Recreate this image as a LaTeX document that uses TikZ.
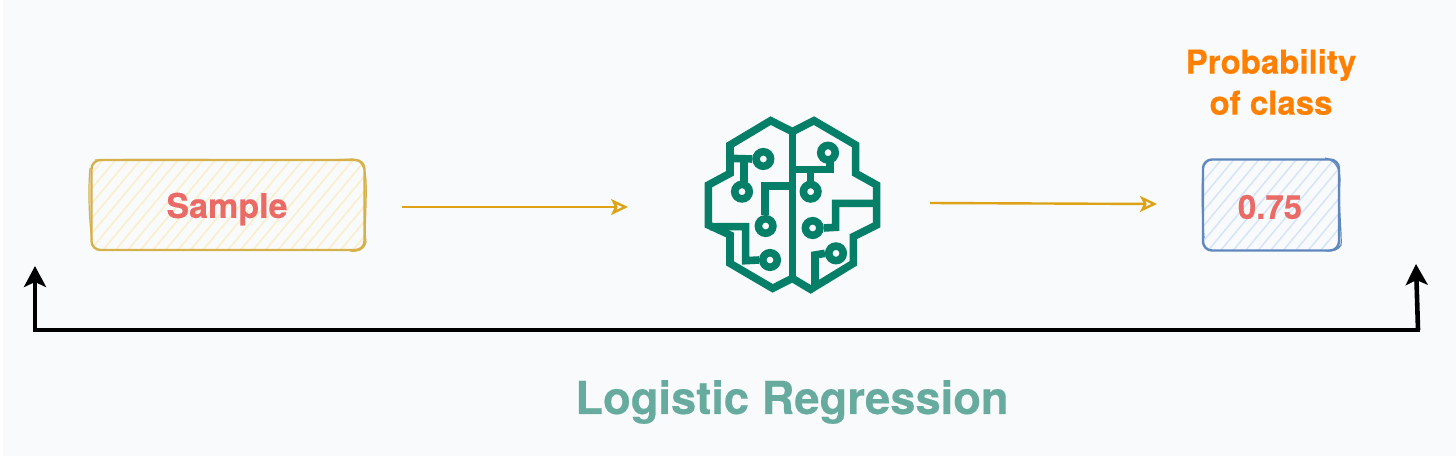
\documentclass[tikz,border=0pt]{standalone}
\usepackage{fontspec}
\setmainfont[BoldFeatures={FakeBold=0.4}]{TeX Gyre Heros}
\usetikzlibrary{arrows.meta}
\definecolor{bgc}{HTML}{F8FAFC}
\definecolor{yel}{HTML}{D6B04A}
\definecolor{yelh}{HTML}{FBEFC8}
\definecolor{blu}{HTML}{5F88BE}
\definecolor{bluh}{HTML}{D5E4F8}
\definecolor{redt}{HTML}{EA6B66}
\definecolor{orgt}{HTML}{FF8000}
\definecolor{grnt}{HTML}{67AB9F}
\definecolor{arr}{HTML}{DDA215}
\definecolor{brn}{HTML}{067F68}
\tikzset{
  sketchbox/.style={draw=#1, line width=2.4pt, rounded corners=9pt, inner sep=0pt},
  hatchy/.style={path picture={\foreach \k in {-22,...,18}{\draw[yelh,line width=1.5pt] (\k*12.5,60)--++(100,-120);}}},
  hatchb/.style={path picture={\foreach \k in {-12,...,8}{\draw[bluh,line width=1.5pt] (\k*12.5,60)--++(100,-120);}}},
  flowarrow/.style={draw=arr, line width=2.4pt, -{Stealth[open,length=17pt,width=16pt,inset=4pt,line width=2.4pt]}},
  backarrow/.style={draw=black, line width=4.6pt, -{Stealth[length=21pt,width=22pt,inset=5pt]}},
  lab/.style={align=center, inner sep=0pt},
  brainline/.style={draw=brn, line width=7.6pt, line join=miter, line cap=butt},
  brainpad/.style={circle, draw=brn, line width=7.6pt, minimum size=14.5pt, inner sep=0pt},
}
\begin{document}
\begin{tikzpicture}[x=1pt,y=-1pt]
\useasboundingbox (0,0) rectangle (1456,458);
\fill[white] (0,0) rectangle (1456,458);
\fill[bgc] (3,0) rectangle (1456,456);

% boxes
\node[sketchbox=yel, hatchy, minimum width=273pt, minimum height=90pt] (sample) at (228,205) {};
\draw[yel,line width=1.2pt] (95,160) .. controls (200,158) and (300,162) .. (352,159) .. controls (362,160) and (365,168) .. (366,180) .. controls (367,205) and (364,230) .. (366,242) .. controls (364,250) and (358,252) .. (350,251);
\draw[yel,line width=1.2pt] (90,168) .. controls (88,190) and (89,220) .. (92,240);
\node[lab, text=redt, font=\bfseries\fontsize{34}{40}\selectfont] (sampletxt) at (227,209) {Sample};

\node[sketchbox=blu, hatchb, minimum width=136pt, minimum height=91pt] (out) at (1271,205) {};
\draw[blu,line width=1.2pt] (1203,172) .. controls (1201,195) and (1203,225) .. (1204,238);
\draw[blu,line width=1.2pt] (1325,158) .. controls (1335,160) and (1340,168) .. (1340,180) .. controls (1338,205) and (1342,235) .. (1341,245) .. controls (1338,250) and (1334,251) .. (1326,251);
\node[lab, text=redt, font=\bfseries\fontsize{33}{36}\selectfont] (outtxt) at (1270,207) {0.75};

\node[lab, text=orgt, font=\bfseries\fontsize{33}{41}\selectfont] (prob) at (1271,82) {Probability\\of class};
\node[lab, text=grnt, font=\bfseries\fontsize{45.3}{54}\selectfont] (logreg) at (792,402) {Logistic Regression};

% brain
\begin{scope}[x=0.33333pt,y=-0.33333pt,shift={(2040,300)}]
\draw[brainline] (337,95) -- (272,62) -- (150,135) -- (150,220) -- (85,255) -- (85,375) -- (150,405) -- (150,490) -- (278,565) -- (337,535) -- (392,568) -- (520,490) -- (520,410) -- (590,375) -- (590,255) -- (527,220) -- (527,135) -- (402,62) -- cycle;
\draw[brainline] (337,95) -- (337,535);
\node[brainpad] (p1) at (250,177) {};
\node[brainpad] (p2) at (186,275) {};
\node[brainpad] (p3) at (257,378) {};
\node[brainpad] (p4) at (270,480) {};
\node[brainpad] (p5) at (444,158) {};
\node[brainpad] (p6) at (392,275) {};
\node[brainpad] (p7) at (398,384) {};
\node[brainpad] (p8) at (468,460) {};
\draw[brainline] (150,175) -- (p1.west);
\draw[brainline] (192,175) -- (192,245);
\draw[brainline] (337,258) -- (255,258) -- (255,345);
\draw[brainline] (90,380) -- (197,380) -- (197,482) -- (p4.west);
\draw[brainline] (337,208) -- (450,208) -- (450,185);
\draw[brainline] (392,208) -- (p6.north);
\draw[brainline] (590,310) -- (467,310) -- (467,382) -- (p7.east);
\draw[brainline] (405,562) -- (405,465) -- (p8.west);
\end{scope}

% connectors
\coordinate (a1s) at (402,207);
\coordinate (a1e) at (628,207);
\coordinate (a2s) at (930,203);
\coordinate (a2e) at (1157,204);
\draw[flowarrow] (a1s) -- (a1e);
\draw[flowarrow] (a2s) -- (a2e);
\coordinate (bl) at (35,330);
\coordinate (blt) at (35,266);
\coordinate (br) at (1418,330);
\coordinate (brt) at (1416,264);
\draw[backarrow] (bl) -- (blt);
\draw[backarrow] (br) -- (brt);
\draw[draw=black,line width=4.6pt,line cap=rect] (bl) -- (br);
\end{tikzpicture}
\end{document}
